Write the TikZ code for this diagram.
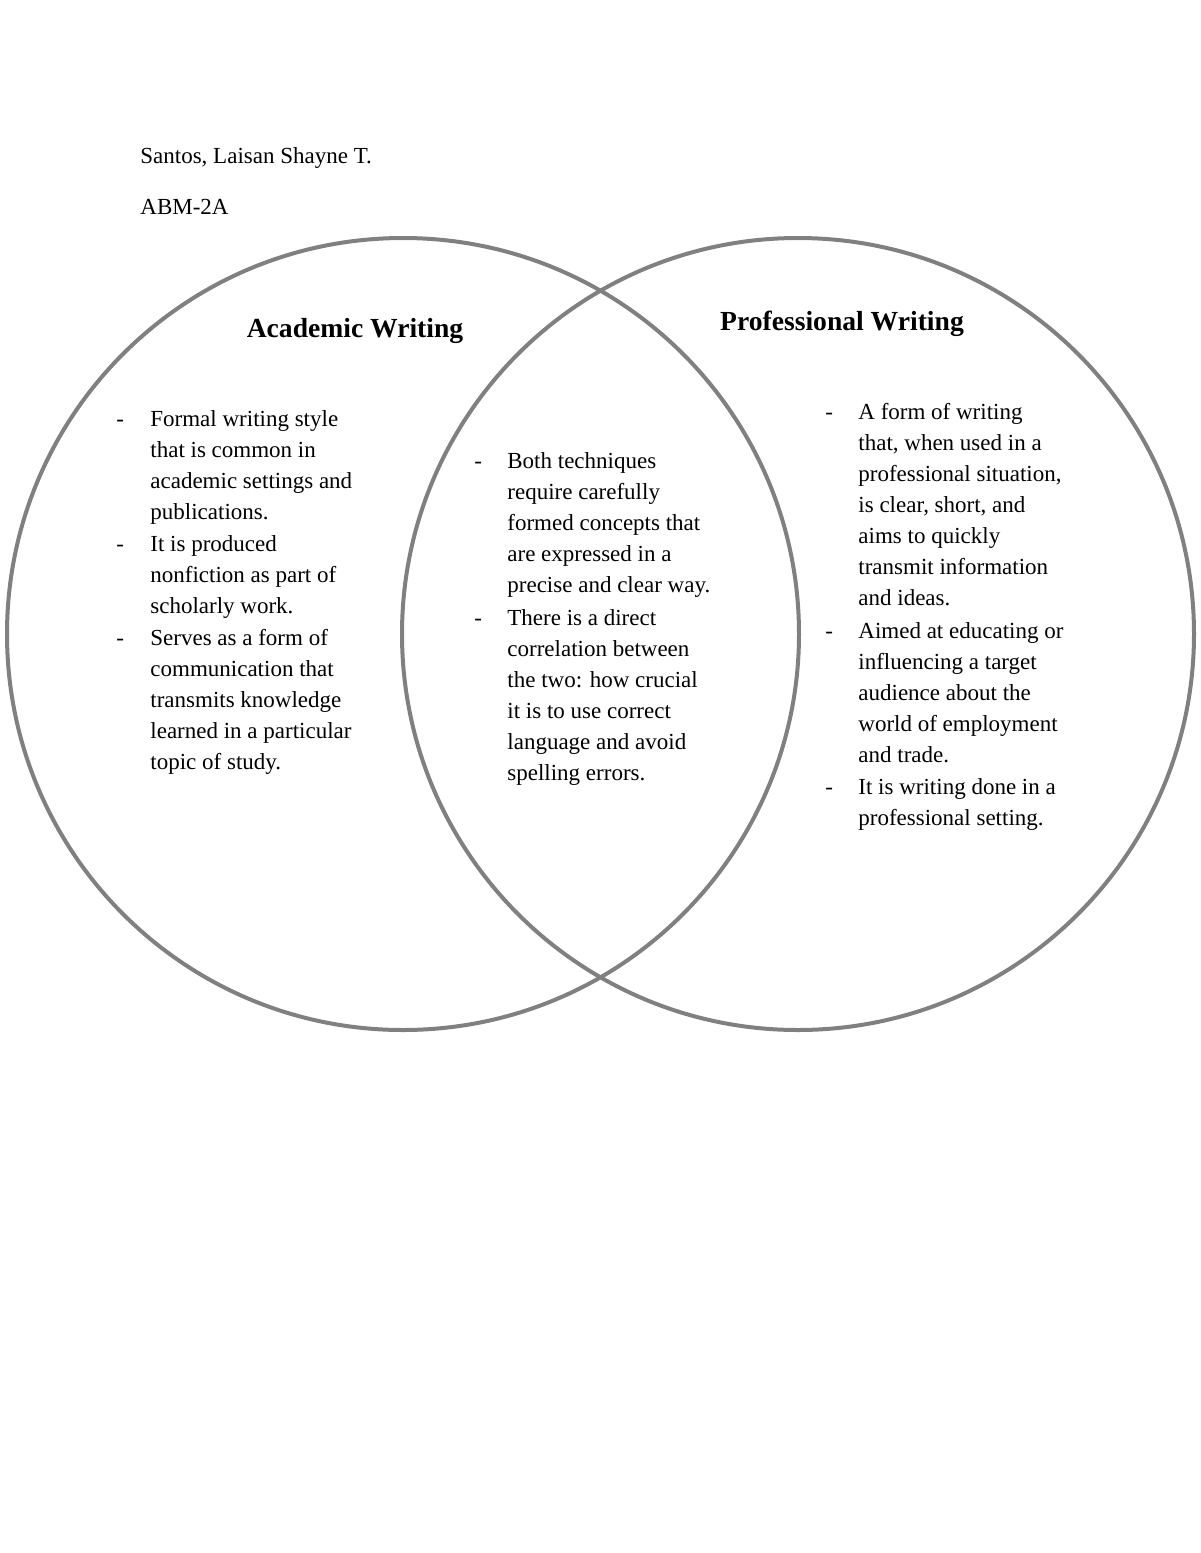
\documentclass[tikz,border=0pt]{standalone}
\usepackage{fontspec}
\setmainfont{Liberation Serif}
\begin{document}
\begin{tikzpicture}[x=0.5pt,y=-0.5pt,
  circ/.style={draw=black!50,line width=2pt},
  body/.style={anchor=north west,inner sep=0pt,align=left,font=\fontsize{11.5}{15.5}\selectfont},
  dashn/.style={anchor=base west,inner sep=0pt,font=\fontsize{11.5}{15.5}\selectfont},
  head/.style={inner sep=0pt,font=\fontsize{13.8}{15}\selectfont\bfseries}]
\useasboundingbox (0,0) rectangle (1200,1553);
\coordinate (L) at (403,634);
\coordinate (R) at (798,634);
\draw[circ] (L) circle[radius=396];
\draw[circ] (R) circle[radius=396];
\node[dashn] (name) at (140,163) {Santos, Laisan Shayne T.};
\node[dashn] (sec) at (140,214) {ABM-2A};
\node[head] (h1) at (355,331) {Academic Writing};
\node[head] (h2) at (842,324) {Professional Writing};
% left
\node[dashn] (ld1) at (116,426) {-};
\node[body] (l1) at (150,426-16) {Formal writing style\\that is common in\\academic settings and\\publications.};
\node[dashn] (ld2) at (116,551) {-};
\node[body] (l2) at (150,551-16) {It is produced\\nonfiction as part of\\scholarly work.};
\node[dashn] (ld3) at (116,645) {-};
\node[body] (l3) at (150,645-16) {Serves as a form of\\communication that\\transmits knowledge\\learned in a particular\\topic of study.};
% middle
\node[dashn] (md1) at (474,468) {-};
\node[body] (m1) at (507,468-16) {Both techniques\\require carefully\\formed concepts that\\are expressed in a\\precise and clear way.};
\node[dashn] (md2) at (474,625) {-};
\node[body] (m2) at (507,625-16) {There is a direct\\correlation between\\the two: how crucial\\it is to use correct\\language and avoid\\spelling errors.};
% right
\node[dashn] (rd1) at (825,419) {-};
\node[body] (r1) at (858,419-16) {A form of writing\\that, when used in a\\professional situation,\\is clear, short, and\\aims to quickly\\transmit information\\and ideas.};
\node[dashn] (rd2) at (825,638) {-};
\node[body] (r2) at (858,638-16) {Aimed at educating or\\influencing a target\\audience about the\\world of employment\\and trade.};
\node[dashn] (rd3) at (825,794) {-};
\node[body] (r3) at (858,794-16) {It is writing done in a\\professional setting.};
\end{tikzpicture}
\end{document}
